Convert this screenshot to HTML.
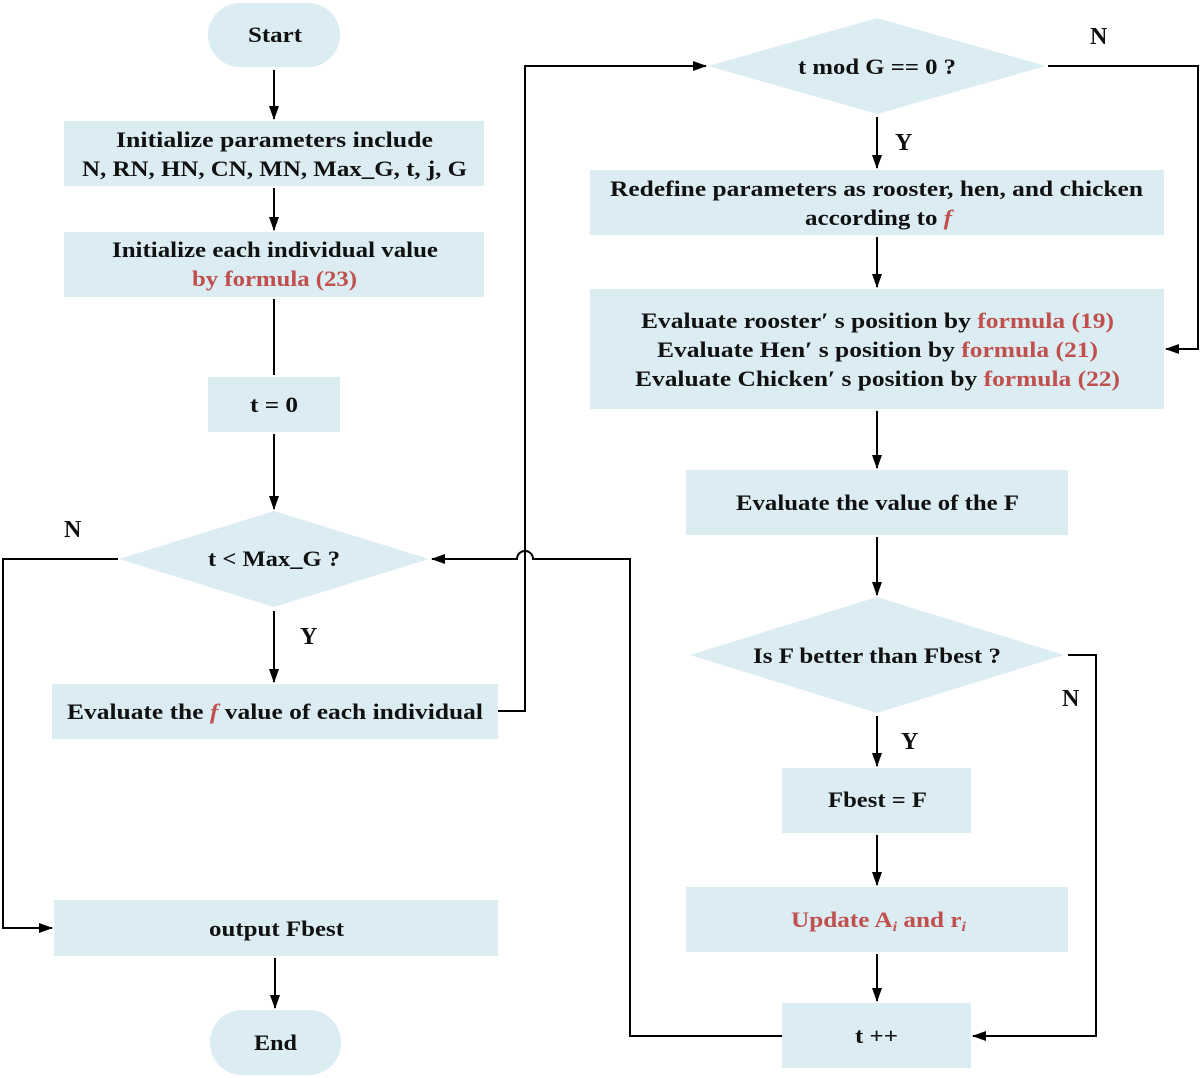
<!DOCTYPE html>
<html><head><meta charset="utf-8"><style>
html,body{margin:0;padding:0;background:#fff;}
svg{display:block;}
text{font-family:"Liberation Serif",serif;font-weight:bold;font-size:22px;fill:#111;}
.r{fill:#c0504d;}
.b{fill:#dbedf3;}
.l{stroke:#000;stroke-width:2;fill:none;}
</style></head><body>
<svg width="1200" height="1078" viewBox="0 0 1200 1078" xmlns="http://www.w3.org/2000/svg">
<defs><marker id="a" markerWidth="14" markerHeight="10" refX="13" refY="5" orient="auto" markerUnits="userSpaceOnUse"><path d="M0,0 L14,5 L0,10 Z" fill="#000"/></marker></defs>
<rect class="b" x="208" y="3" width="132" height="64" rx="32"/>
<rect class="b" x="64" y="121" width="420" height="65"/>
<rect class="b" x="64" y="232" width="420" height="65"/>
<rect class="b" x="208" y="377" width="132" height="55"/>
<polygon class="b" points="119,559 274,511 429,559 274,607"/>
<rect class="b" x="52" y="684" width="446" height="55"/>
<rect class="b" x="54" y="900" width="444" height="56"/>
<rect class="b" x="210" y="1010" width="131" height="65" rx="32"/>
<polygon class="b" points="708,66 877,18 1046,66 877,114"/>
<rect class="b" x="590" y="170" width="574" height="65"/>
<rect class="b" x="590" y="289" width="574" height="120"/>
<rect class="b" x="686" y="470" width="382" height="65"/>
<polygon class="b" points="690,655 877,597 1064,655 877,713"/>
<rect class="b" x="782" y="768" width="189" height="65"/>
<rect class="b" x="686" y="887" width="382" height="65"/>
<rect class="b" x="782" y="1003" width="189" height="65"/>
<line class="l" x1="274" y1="70" x2="274" y2="119" marker-end="url(#a)"/>
<line class="l" x1="274" y1="188" x2="274" y2="230" marker-end="url(#a)"/>
<line class="l" x1="274" y1="299" x2="274" y2="375"/>
<line class="l" x1="274" y1="434" x2="274" y2="509" marker-end="url(#a)"/>
<line class="l" x1="274" y1="611" x2="274" y2="682" marker-end="url(#a)"/>
<line class="l" x1="275" y1="958" x2="275" y2="1008" marker-end="url(#a)"/>
<polyline class="l" points="118,559 3,559 3,928 52,928" marker-end="url(#a)"/>
<polyline class="l" points="498,711 525,711 525,66 706,66" marker-end="url(#a)"/>
<path class="l" d="M782,1036 L630,1036 L630,559 L533,559 A8,8 0 0 0 517,559 L432,559" marker-end="url(#a)"/>
<line class="l" x1="877" y1="117" x2="877" y2="168" marker-end="url(#a)"/>
<line class="l" x1="877" y1="237" x2="877" y2="287" marker-end="url(#a)"/>
<line class="l" x1="877" y1="411" x2="877" y2="468" marker-end="url(#a)"/>
<line class="l" x1="877" y1="537" x2="877" y2="595" marker-end="url(#a)"/>
<line class="l" x1="877" y1="716" x2="877" y2="766" marker-end="url(#a)"/>
<line class="l" x1="877" y1="835" x2="877" y2="885" marker-end="url(#a)"/>
<line class="l" x1="877" y1="954" x2="877" y2="1001" marker-end="url(#a)"/>
<polyline class="l" points="1048,66 1198,66 1198,349 1166,349" marker-end="url(#a)"/>
<polyline class="l" points="1068,655 1096,655 1096,1036 973,1036" marker-end="url(#a)"/>
<g lengthAdjust="spacingAndGlyphs">
<text x="248" y="42" textLength="54" lengthAdjust="spacingAndGlyphs">Start</text>
<text x="116" y="147" textLength="317" lengthAdjust="spacingAndGlyphs">Initialize  parameters  include</text>
<text x="82" y="176" textLength="385" lengthAdjust="spacingAndGlyphs">N, RN, HN, CN, MN, Max_G, t, j, G</text>
<text x="112" y="257" textLength="326" lengthAdjust="spacingAndGlyphs">Initialize each individual value</text>
<text x="192" y="286" textLength="165" lengthAdjust="spacingAndGlyphs" class="r">by formula (23)</text>
<text x="250" y="412" textLength="48" lengthAdjust="spacingAndGlyphs">t = 0</text>
<text x="208" y="566" textLength="132" lengthAdjust="spacingAndGlyphs">t &lt; Max_G ?</text>
<text x="67" y="719" textLength="416" lengthAdjust="spacingAndGlyphs">Evaluate the <tspan class="r" font-style="italic">f</tspan>  value of each individual</text>
<text x="209" y="936" textLength="135" lengthAdjust="spacingAndGlyphs">output Fbest</text>
<text x="254" y="1050" textLength="43" lengthAdjust="spacingAndGlyphs">End</text>
<text x="798" y="74" textLength="158" lengthAdjust="spacingAndGlyphs">t mod G == 0 ?</text>
<text x="610" y="196" textLength="533" lengthAdjust="spacingAndGlyphs">Redefine parameters as rooster,  hen, and  chicken</text>
<text x="805" y="225" textLength="147" lengthAdjust="spacingAndGlyphs">according to <tspan class="r" font-style="italic">f</tspan></text>
<text x="641" y="328" textLength="473" lengthAdjust="spacingAndGlyphs">Evaluate rooster′  s position by <tspan class="r">formula (19)</tspan></text>
<text x="657" y="357" textLength="441" lengthAdjust="spacingAndGlyphs">Evaluate Hen′  s position by <tspan class="r">formula (21)</tspan></text>
<text x="635" y="386" textLength="485" lengthAdjust="spacingAndGlyphs">Evaluate Chicken′  s position by <tspan class="r">formula (22)</tspan></text>
<text x="736" y="510" textLength="283" lengthAdjust="spacingAndGlyphs">Evaluate the value of the F</text>
<text x="753" y="663" textLength="248" lengthAdjust="spacingAndGlyphs">Is F better than Fbest ?</text>
<text x="828" y="807" textLength="99" lengthAdjust="spacingAndGlyphs">Fbest = F</text>
<text x="791" y="927" class="r" textLength="175" lengthAdjust="spacingAndGlyphs">Update A<tspan font-size="14" font-style="italic" dy="4">i</tspan><tspan dy="-4"> and r</tspan><tspan font-size="14" font-style="italic" dy="4">i</tspan></text>
<text x="855" y="1043" textLength="43" lengthAdjust="spacingAndGlyphs">t ++</text>
</g>
<g>
<text x="64" y="537" style="font-size:24px">N</text>
<text x="300" y="644" style="font-size:24px">Y</text>
<text x="1090" y="44" style="font-size:24px">N</text>
<text x="895" y="150" style="font-size:24px">Y</text>
<text x="1062" y="706" style="font-size:24px">N</text>
<text x="901" y="749" style="font-size:24px">Y</text>
</g>
</svg>
</body></html>
